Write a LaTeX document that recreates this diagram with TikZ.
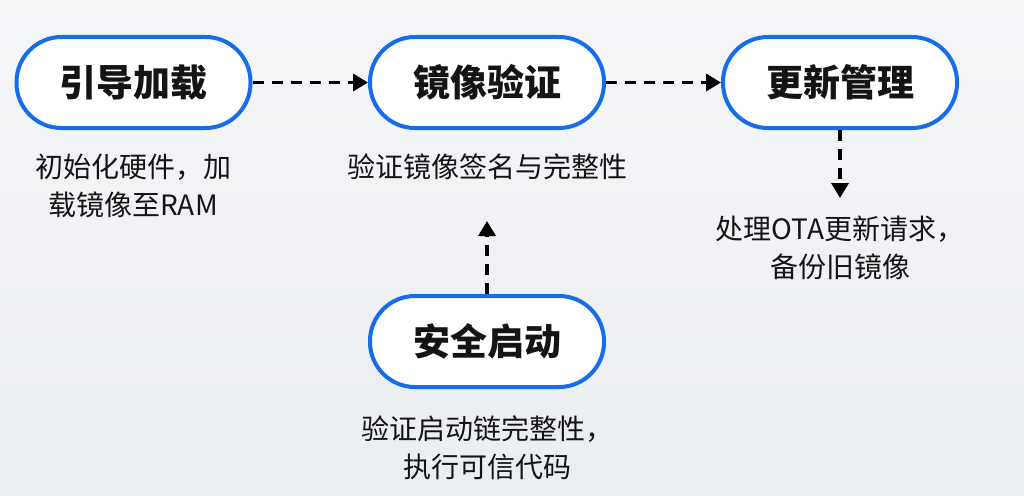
\documentclass[tikz,border=0pt]{standalone}
\usepackage{fontspec}
\setmainfont{Noto Sans CJK SC}
\usetikzlibrary{arrows.meta}
\definecolor{bord}{RGB}{22,108,235}
\definecolor{bgtop}{RGB}{245,246,248}
\definecolor{bgbot}{RGB}{234,237,241}
\definecolor{txt}{RGB}{20,20,20}
\tikzset{
  stage/.style={draw=bord, line width=4pt, fill=white, rounded corners=45pt,
    minimum width=234pt, minimum height=91pt, inner sep=0pt,
    font=\fontsize{37}{40}\selectfont\bfseries, text=txt},
  desc/.style={font=\fontsize{28}{38}\selectfont, align=center, text=txt, inner sep=0pt},
  flow/.style={line width=3.5pt, dash pattern=on 11pt off 8pt, draw=black,
    -{Triangle[length=15pt,width=17pt]}}
}
\begin{document}
\begin{tikzpicture}[x=1pt,y=-1pt]
\useasboundingbox (0,0) rectangle (1024,495);
\shade[top color=bgtop, bottom color=bgbot] (0,0) rectangle (1024,495);
\node[stage] (n1) at (133.5,82.5) {引导加载};
\node[stage] (n2) at (487,82.5) {镜像验证};
\node[stage] (n3) at (840,82.5) {更新管理};
\node[stage] (n4) at (487,341.5) {安全启动};
\node[desc] (d1) at (133,186) {初始化硬件，加\\载镜像至RAM};
\node[desc] (d2) at (487,167) {验证镜像签名与完整性};
\node[desc] (d3) at (840,248) {处理OTA更新请求，\\备份旧镜像};
\node[desc] (d4) at (487,448) {验证启动链完整性，\\执行可信代码};
\coordinate (e3) at (840,198);
\coordinate (e4) at (487,221);
\draw[flow] (n1.east) -- (n2.west);
\draw[flow] (n2.east) -- (n3.west);
\draw[flow] (n3.south) -- (e3);
\draw[flow] (n4.north) -- (e4);
\end{tikzpicture}
\end{document}
